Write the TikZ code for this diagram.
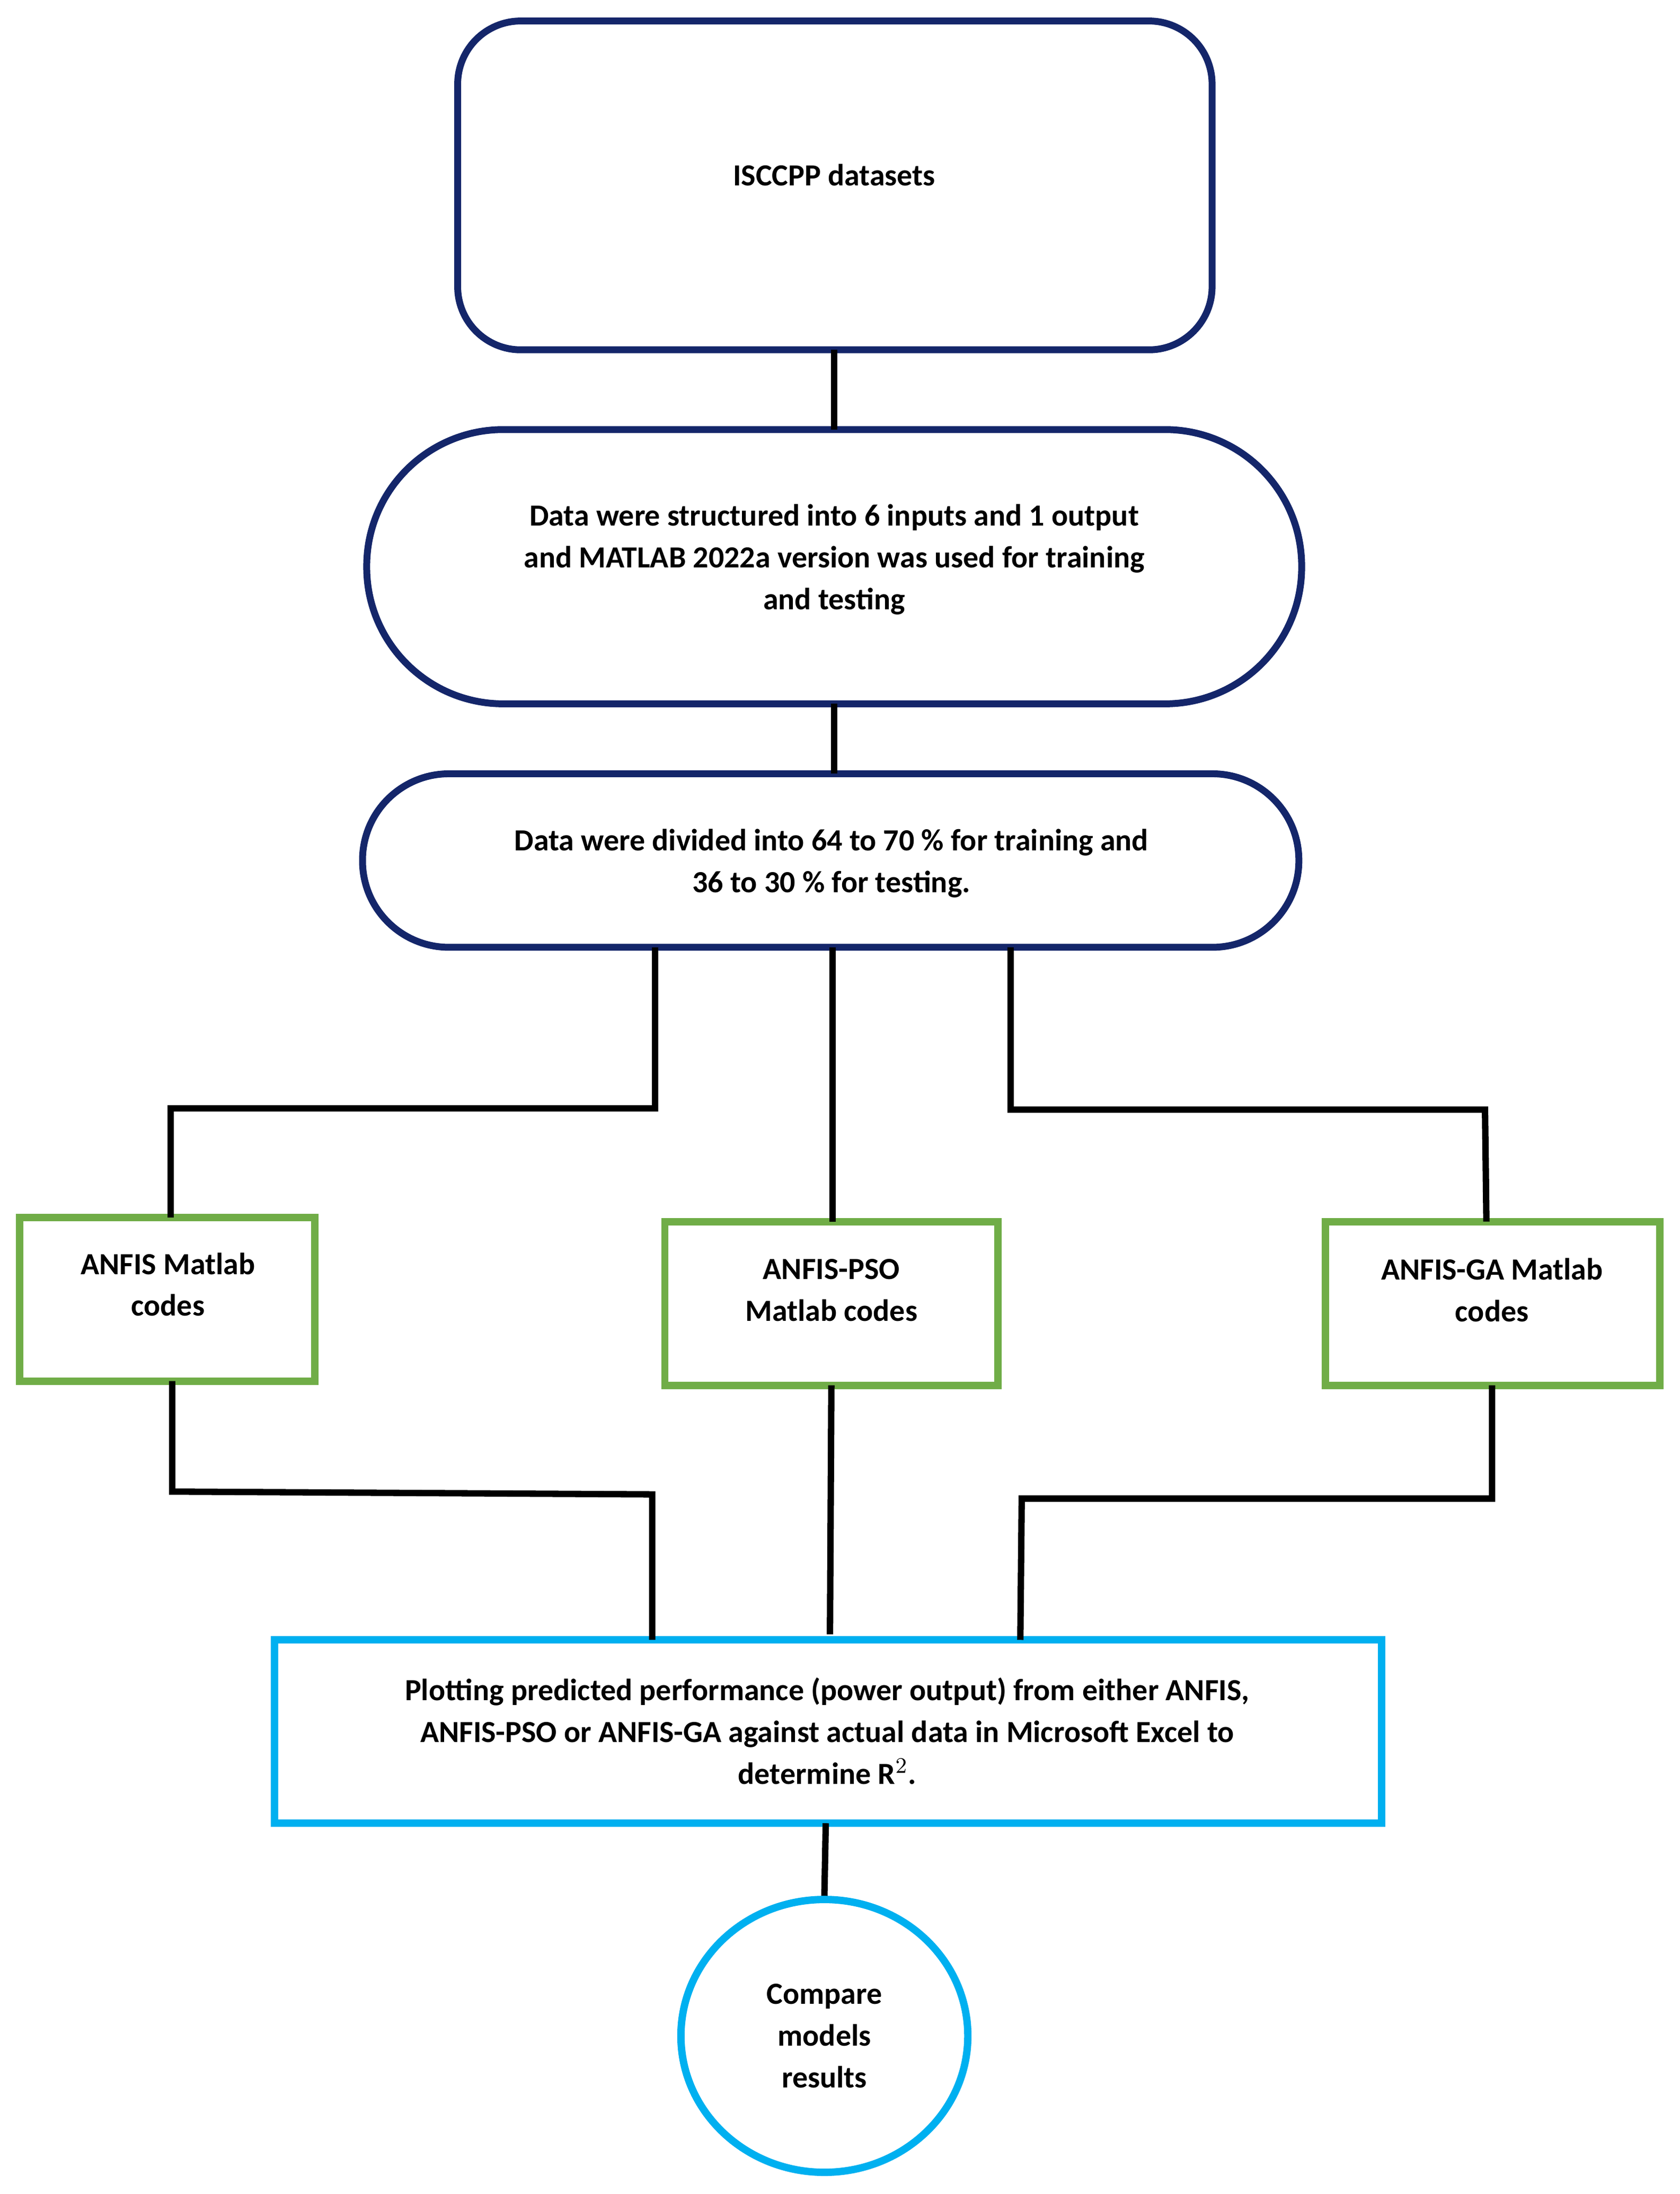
\documentclass[tikz,border=0pt]{standalone}
\usepackage{fontspec}
\setmainfont{Carlito}
\usetikzlibrary{shapes.misc,shapes.geometric}
\definecolor{navy}{HTML}{14266A}
\definecolor{grn}{HTML}{70AD47}
\definecolor{sky}{HTML}{00B0F0}
\begin{document}
\begin{tikzpicture}[x=0.02cm,y=-0.02cm,
  txt/.style={font=\fontsize{12.5}{17}\selectfont\bfseries,align=center,inner sep=0pt},
  nv/.style={draw=navy,line width=2.8pt},
  gb/.style={draw=grn,line width=3pt,minimum width=#1},
  ln/.style={line width=2.6pt}]
\useasboundingbox (0,0) rectangle (1200,1568);
\draw[nv,rounded corners=45pt*0.57] (327,15) rectangle (866,250);
\node[txt] (a) at (596,125) {ISCCPP datasets};
\draw[nv,rounded corners=98*0.567pt] (262,307) rectangle (930,503);
\node[txt] (b) at (596,400) {Data were structured into 6 inputs and 1 output\\and MATLAB 2022a version was used for training\\and testing};
\draw[nv,rounded corners=62*0.567pt] (259,553) rectangle (928,677);
\node[txt] (c) at (594,617) {Data were divided into 64 to 70 \% for training and\\36 to 30 \% for testing.};
\draw[draw=grn,line width=3pt] (14,870) rectangle (225,987);
\node[txt] (g1) at (120,918) {ANFIS Matlab\\codes};
\draw[draw=grn,line width=3pt] (475,873) rectangle (713,990);
\node[txt] (g2) at (594,922) {ANFIS-PSO\\Matlab codes};
\draw[draw=grn,line width=3pt] (947,873) rectangle (1186,990);
\node[txt] (g3) at (1066,922) {ANFIS-GA Matlab\\codes};
\draw[draw=sky,line width=3pt] (196,1172) rectangle (987,1303);
\node[txt] (p) at (591,1237) {Plotting predicted performance (power output) from either ANFIS,\\ANFIS-PSO or ANFIS-GA against actual data in Microsoft Excel to\\determine R$^2$.};
\node[draw=sky,line width=3pt,ellipse,minimum width=205*0.02cm,minimum height=195*0.02cm,txt] (r) at (589,1455) {Compare\\models\\results};
\coordinate (aS) at (596,250); \coordinate (bN) at (596,307);
\coordinate (bS) at (596,503); \coordinate (cN) at (596,553);
\draw[ln] (aS)--(bN); \draw[ln] (bS)--(cN);
\draw[ln] (468,677)--(468,792)--(122,792)--(122,870);
\draw[ln] (595,677)--(595,873);
\draw[ln] (722,677)--(722,793)--(1061,793)--(1062,873);
\draw[ln] (123,987)--(123,1066)--(466,1068)--(466,1172);
\draw[ln] (594,990)--(593,1168);
\draw[ln] (1066,990)--(1066,1071)--(730,1071)--(729,1172);
\draw[ln] (590,1303)--(r.north);
\end{tikzpicture}
\end{document}
